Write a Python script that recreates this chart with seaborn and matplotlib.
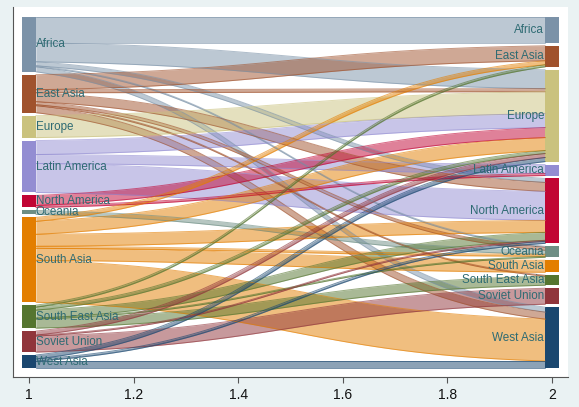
import numpy as np
import matplotlib
matplotlib.use("Agg")
import matplotlib.pyplot as plt
import seaborn as sns
from matplotlib.ticker import FormatStrFormatter

# regions (same order on both sides, top to bottom)
regions = ["Africa", "East Asia", "Europe", "Latin America", "North America",
           "Oceania", "South Asia", "South East Asia", "Soviet Union", "West Asia"]
region_colors = ["#7b92a8", "#a0522d", "#cac27e", "#938dd2", "#c10534",
                 "#6e8e84", "#e37e00", "#55752f", "#90353b", "#1a476f"]

# flows origin -> destination
src = ["Africa", "Africa", "Africa", "Africa", "Africa",
       "East Asia", "East Asia", "East Asia", "East Asia", "East Asia", "East Asia",
       "Europe",
       "Latin America", "Latin America", "Latin America",
       "North America", "North America",
       "Oceania",
       "South Asia", "South Asia", "South Asia", "South Asia", "South Asia", "South Asia",
       "South East Asia", "South East Asia", "South East Asia", "South East Asia", "South East Asia",
       "Soviet Union", "Soviet Union", "Soviet Union",
       "West Asia", "West Asia", "West Asia"]
dst = ["Africa", "Europe", "North America", "Oceania", "West Asia",
       "East Asia", "Europe", "North America", "Oceania", "South East Asia", "West Asia",
       "Europe",
       "Europe", "Latin America", "North America",
       "Europe", "Latin America",
       "Oceania",
       "East Asia", "Europe", "North America", "Oceania", "South Asia", "West Asia",
       "East Asia", "Europe", "North America", "Oceania", "South East Asia",
       "Europe", "North America", "Soviet Union",
       "Europe", "North America", "West Asia"]
val = [26, 19, 4, 1, 5,
       15, 3, 9, 3, 1, 7,
       22,
       14, 9, 29,
       10, 2,
       4,
       4, 13, 12, 2, 12, 42,
       2, 3, 8, 1, 9,
       4, 1, 16,
       4, 2, 7]

gap = 3
node_w = 0.026
n = len(regions)
si = np.array([regions.index(s) for s in src])
di = np.array([regions.index(d) for d in dst])
val = np.array(val, dtype=float)

out_tot = np.array([val[si == i].sum() for i in range(n)])
in_tot = np.array([val[di == i].sum() for i in range(n)])
left_top = np.concatenate([[0], np.cumsum(out_tot + gap)[:-1]])
right_top = np.concatenate([[0], np.cumsum(in_tot + gap)[:-1]])
height = left_top[-1] + out_tot[-1]

# stacking of ribbons inside each node
left_off = left_top.copy()
y0 = np.zeros(len(val))
for k in np.lexsort((di, si)):
    y0[k] = left_off[si[k]]
    left_off[si[k]] += val[k]
right_off = right_top.copy()
y1 = np.zeros(len(val))
for k in np.lexsort((si, di)):
    y1[k] = right_off[di[k]]
    right_off[di[k]] += val[k]


def smooth(t, k=6.0):
    s = 1 / (1 + np.exp(-k * (t - 0.5)))
    a = 1 / (1 + np.exp(k / 2))
    return (s - a) / (1 - 2 * a)


sns.set_style("white")
plt.rcParams["font.family"] = ["Liberation Sans", "DejaVu Sans"]

fig, ax = plt.subplots(figsize=(5.79, 4.07), dpi=100)
fig.patch.set_facecolor("#eaf2f3")
ax.set_facecolor("white")
fig.subplots_adjust(left=0.0225, right=0.981, top=0.983, bottom=0.0737)

t = np.linspace(0, 1, 120)
xs = 1 + node_w / 2 + t * (1 - node_w)
s = smooth(t)
for k in range(len(val)):
    c = region_colors[si[k]]
    top = y0[k] + (y1[k] - y0[k]) * s
    bot = top + val[k]
    ax.fill_between(xs, top, bot, color=c, alpha=0.5, lw=0)
    ax.plot(xs, top, color=c, alpha=0.6, lw=0.7)
    ax.plot(xs, bot, color=c, alpha=0.6, lw=0.7)

# nodes
ax.bar(np.ones(n), out_tot, bottom=left_top, width=node_w, color=region_colors, lw=0)
ax.bar(np.full(n, 2.0), in_tot, bottom=right_top, width=node_w, color=region_colors, lw=0)

lab_col = "#2e6b73"
for i, name in enumerate(regions):
    ax.text(1 + node_w / 2, left_top[i] + out_tot[i] / 2, name, ha="left", va="center",
            fontsize=8.4, color=lab_col)
    ax.text(2 - node_w / 2 - 0.002, right_top[i] + in_tot[i] / 2, name, ha="right",
            va="center", fontsize=8.4, color=lab_col)

pad = 16 / 523
ax.set_xlim(1 - pad, 2 + pad)
ax.set_ylim(height + 9, -10)
ax.set_xticks([1, 1.2, 1.4, 1.6, 1.8, 2])
ax.xaxis.set_major_formatter(FormatStrFormatter("%g"))
ax.set_yticks([])
ax.tick_params(axis="x", bottom=True, length=4, width=0.8, color="#555555",
               labelsize=10, labelcolor="#111111", pad=4)
sns.despine(ax=ax, top=True, right=True)
for sp in ("left", "bottom"):
    ax.spines[sp].set_color("#555555")
    ax.spines[sp].set_linewidth(0.8)

fig.savefig("out.png", dpi=100, facecolor=fig.get_facecolor())
